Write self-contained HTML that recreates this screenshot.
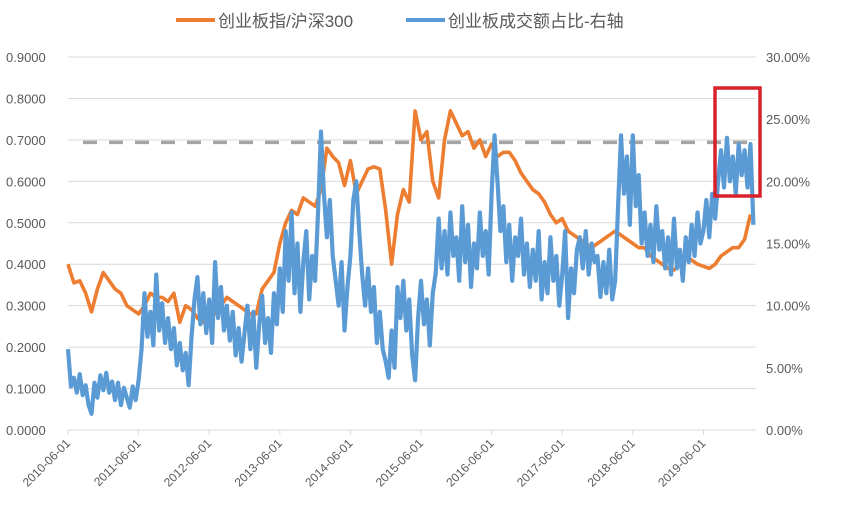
<!DOCTYPE html>
<html><head><meta charset="utf-8"><style>
body{margin:0;background:#fff;width:865px;height:525px;overflow:hidden;font-family:"Liberation Sans","Noto Sans CJK SC",sans-serif}
</style></head><body>
<svg id="c" width="865" height="525" xmlns="http://www.w3.org/2000/svg" style="position:absolute;left:0;top:0">
<g id="legend">
<line x1="176" y1="20" x2="215" y2="20" stroke="#ed7d31" stroke-width="4"/>
<text x="218" y="27" font-size="17" fill="#595959">创业板指/沪深300</text>
<line x1="406" y1="20" x2="445" y2="20" stroke="#5b9bd5" stroke-width="4"/>
<text x="448" y="27" font-size="17" fill="#595959">创业板成交额占比-右轴</text>
</g>
<g id="grid"></g><g id="ylab"></g><g id="yrlab"></g><g id="xlab"></g>
<g id="series"></g>
<rect x="715" y="88" width="45" height="108" fill="none" stroke="#d7222b" stroke-width="3.5"/>
</svg>
<script>
const leftTicks=["0.0000","0.1000","0.2000","0.3000","0.4000","0.5000","0.6000","0.7000","0.8000","0.9000"];
const rightTicks=["0.00%","5.00%","10.00%","15.00%","20.00%","25.00%","30.00%"];
const xTicks=["2010-06-01","2011-06-01","2012-06-01","2013-06-01","2014-06-01","2015-06-01","2016-06-01","2017-06-01","2018-06-01","2019-06-01"];
const refLevel=0.694;
// monthly, starting 2010-06
const ratio=[0.40,0.355,0.36,0.33,0.285,0.34,0.38,0.36,0.34,0.33,0.30,0.29,0.28,0.30,0.33,0.32,0.32,0.31,0.33,0.26,0.30,0.29,0.27,0.26,0.285,0.28,0.30,0.32,0.31,0.30,0.29,0.28,0.28,0.34,0.36,0.38,0.45,0.50,0.53,0.52,0.56,0.55,0.54,0.58,0.68,0.66,0.645,0.59,0.65,0.57,0.60,0.63,0.635,0.63,0.53,0.40,0.52,0.58,0.55,0.77,0.70,0.72,0.60,0.56,0.70,0.77,0.74,0.71,0.72,0.68,0.70,0.66,0.69,0.66,0.67,0.67,0.65,0.62,0.60,0.58,0.57,0.55,0.52,0.50,0.51,0.48,0.47,0.46,0.45,0.44,0.45,0.46,0.47,0.48,0.47,0.46,0.45,0.44,0.44,0.42,0.41,0.40,0.39,0.386,0.40,0.42,0.41,0.40,0.395,0.39,0.40,0.42,0.43,0.44,0.44,0.46,0.52];
// semi-monthly, percent
const share=[6.5,3.5,4.2,3.0,4.5,2.8,3.6,2.0,1.3,3.8,2.6,4.4,
3.2,4.6,3.0,3.9,2.4,3.8,2.0,3.4,2.6,1.8,3.5,2.4,
4.0,6.5,11.0,7.5,9.5,6.8,12.5,8.0,10.2,7.0,9.0,6.5,
8.2,5.2,7.0,4.8,6.2,3.6,7.5,10.5,12.3,8.5,11.0,7.8,
10.5,7.0,13.5,9.0,11.5,8.0,10.0,7.2,9.5,6.0,8.2,5.5,
7.8,10.0,6.5,9.5,5.0,8.5,10.8,7.0,9.0,6.2,11.0,8.5,
13.0,9.5,16.0,12.0,17.5,11.0,15.0,9.5,13.5,16.0,10.5,14.0,
12.0,17.5,24.0,19.0,15.5,18.5,14.0,12.0,10.0,13.5,8.0,11.5,
14.0,18.5,20.0,16.0,12.5,10.0,13.0,9.5,11.5,7.0,9.5,6.5,
5.5,4.2,8.0,5.0,11.5,9.0,12.0,8.0,10.5,6.0,4.0,9.0,
12.0,8.5,10.5,6.8,11.0,12.6,17.0,13.0,16.0,12.5,17.5,14.0,
15.5,12.0,18.0,13.5,16.5,11.5,15.0,13.0,17.5,14.0,16.0,12.5,
19.0,23.7,20.0,16.0,18.0,13.5,16.5,12.0,15.5,14.0,17.0,12.5,
15.0,11.5,14.5,12.0,16.0,10.5,13.5,11.0,15.5,12.0,14.0,10.0,
12.5,16.0,9.0,13.0,11.0,14.5,15.5,13.0,16.0,12.5,15.0,13.5,
14.0,10.7,13.5,11.0,14.5,10.5,12.0,18.0,23.7,19.0,22.0,16.5,
23.7,18.0,20.5,15.0,17.5,14.0,16.5,13.5,18.0,14.5,16.0,13.0,
15.5,12.5,17.0,13.0,14.5,12.0,15.5,13.5,16.5,14.0,17.5,15.0,
16.0,18.5,15.5,19.0,17.0,20.0,22.5,19.5,23.5,20.0,22.0,19.0,
23.0,20.5,22.5,19.5,23.0,16.5];

const NS="http://www.w3.org/2000/svg";
const X0=68,YEAR=70.6,Y0=430,Y1=57,XR=756;
const xM=m=>X0+m*YEAR/12;
const yL=v=>Y0-(v/0.9)*(Y0-Y1);
const yR=p=>Y0-(p/30)*(Y0-Y1);
function mk(tag,parent,attrs){const e=document.createElementNS(NS,tag);for(const k in attrs)e.setAttribute(k,attrs[k]);parent.appendChild(e);return e;}
const grid=document.getElementById('grid'),ylab=document.getElementById('ylab'),yrlab=document.getElementById('yrlab'),xlab=document.getElementById('xlab'),ser=document.getElementById('series');
leftTicks.forEach((t,i)=>{const v=parseFloat(t),y=yL(v);
 const g=mk('line',grid,{x1:X0,x2:XR,y1:y,y2:y,stroke:'#d9d9d9','stroke-width':1});
 
 
 const tx=mk('text',ylab,{x:6,y:y+5,'font-size':13,fill:'#595959'});tx.textContent=t;
 
 
});
rightTicks.forEach(t=>{const p=parseFloat(t),y=yR(p);
 const tx=mk('text',yrlab,{x:766,y:y+5,'font-size':13,fill:'#595959'});tx.textContent=t;
 
 
});
xTicks.forEach((t,i)=>{const x=X0+i*YEAR;
 const tk=mk('line',xlab,{x1:x,x2:x,y1:Y0,y2:Y0+5,stroke:'#d9d9d9'});
 
 
 const tx=mk('text',xlab,{x:x+3,y:Y0+14,'font-size':12,fill:'#595959','text-anchor':'end',transform:`rotate(-45 ${x+3} ${Y0+14})`});tx.textContent=t;
 
 
});
const ref=mk('line',ser,{x1:83,x2:752,y1:yL(refLevel),y2:yL(refLevel),stroke:'#a5a5a5','stroke-width':3.5,'stroke-dasharray':'14 12'});


const po=mk('polyline',ser,{points:ratio.map((v,i)=>xM(i)+','+yL(v)).join(' '),fill:'none',stroke:'#ed7d31','stroke-width':3.6,'stroke-linejoin':'round'});


const pb=mk('polyline',ser,{points:share.map((p,i)=>xM(i/2)+','+yR(p)).join(' '),fill:'none',stroke:'#5b9bd5','stroke-width':4.2,'stroke-linejoin':'round'});


</script>
</body></html>
